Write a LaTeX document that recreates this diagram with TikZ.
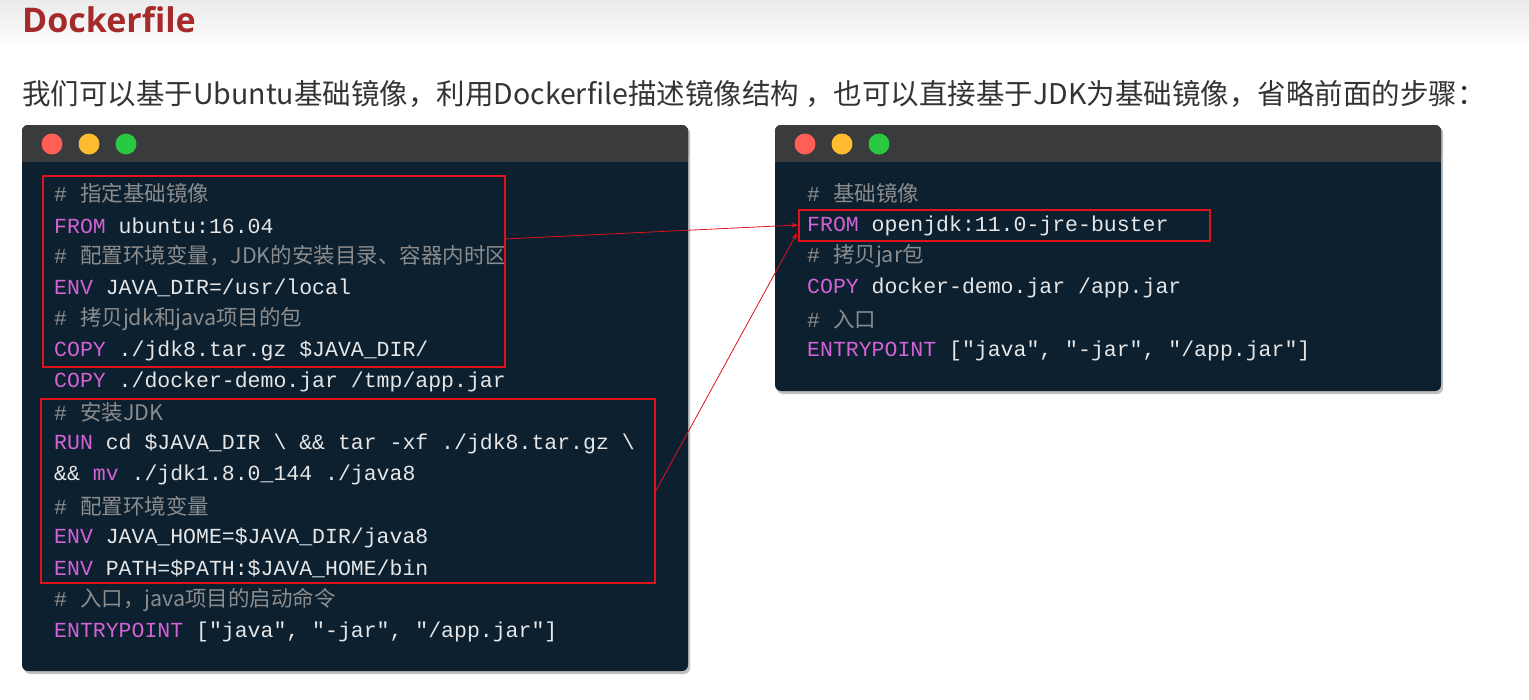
\documentclass[tikz,border=0pt]{standalone}
\usepackage{fontspec}
\setmainfont{Noto Sans CJK SC}
\setmonofont{Liberation Mono}
\newfontfamily\cjk{Noto Sans CJK SC}
\newfontfamily\titlefont{Open Sans}
\usetikzlibrary{arrows.meta}
\definecolor{winbg}{HTML}{0C2030}
\definecolor{bar}{HTML}{3A3B3C}
\definecolor{kw}{HTML}{D163D6}
\definecolor{cm}{HTML}{8C8C8C}
\definecolor{tx}{HTML}{E6E6E6}
\definecolor{rbox}{HTML}{E0121C}
\definecolor{ttl}{HTML}{A52A2A}
\definecolor{dr}{HTML}{FF5F57}
\definecolor{dy}{HTML}{FEBC2E}
\definecolor{dg}{HTML}{28C840}
\newcommand{\K}[1]{\textcolor{kw}{#1}}
\newcommand{\C}[1]{\textcolor{cm}{\# {\cjk #1}}}
\begin{document}
\begin{tikzpicture}[x=1pt,y=-1pt,
  code/.style={anchor=west,inner sep=0,font=\ttfamily\fontsize{21.5}{22}\selectfont,text=tx},
  hl/.style={draw=rbox,line width=1.8pt},
  link/.style={draw=rbox,line width=0.8pt,-{Stealth[length=7pt,width=5pt]}}]
\useasboundingbox (0,0) rectangle (1529,699);
\shade[top color=black!8,bottom color=white] (0,0) rectangle (1529,50);
\node[anchor=west,inner sep=0,text=ttl,font=\titlefont\bfseries\fontsize{34}{36}\selectfont] (title) at (22,20) {Dockerfile};
\node[anchor=west,inner sep=0,text=black!80,font=\fontsize{28.5}{30}\selectfont] (sub) at (22,94) {我们可以基于Ubuntu基础镜像，利用Dockerfile描述镜像结构 ，也可以直接基于JDK为基础镜像，省略前面的步骤：};
% windows
\foreach \n/\x/\h in {L/22/671,R/775/391}{
  \fill[black!25,rounded corners=6pt] (\x+2,127) rectangle (\x+668,\h+3);
  \fill[winbg,rounded corners=6pt] (\x,125) rectangle (\x+666,\h);
  \fill[bar,rounded corners=6pt] (\x,125) rectangle (\x+666,162);
  \fill[bar] (\x,150) rectangle (\x+666,162);
  \fill[dr] (\x+30,144) circle (10.5);
  \fill[dy] (\x+67,144) circle (10.5);
  \fill[dg] (\x+104,144) circle (10.5);
}
% left code
\node[code] (l1) at (54,193) {\C{指定基础镜像}};
\node[code] (l2) at (54,226) {\K{FROM} ubuntu:16.04};
\node[code] (l3) at (54,256) {\C{配置环境变量，JDK的安装目录、容器内时区}};
\node[code] (l4) at (54,288) {\K{ENV} JAVA\_DIR=/usr/local};
\node[code] (l5) at (54,319) {\C{拷贝jdk和java项目的包}};
\node[code] (l6) at (54,351) {\K{COPY} ./jdk8.tar.gz \$JAVA\_DIR/};
\node[code] (l7) at (54,382) {\K{COPY} ./docker-demo.jar /tmp/app.jar};
\node[code] (l8) at (54,412) {\C{安装JDK}};
\node[code] (l9) at (54,444) {\K{RUN} cd \$JAVA\_DIR \textbackslash{} \&\& tar -xf ./jdk8.tar.gz \textbackslash};
\node[code] (l10) at (54,475) {\&\& \K{mv} ./jdk1.8.0\_144 ./java8};
\node[code] (l11) at (54,506) {\C{配置环境变量}};
\node[code] (l12) at (54,538) {\K{ENV} JAVA\_HOME=\$JAVA\_DIR/java8};
\node[code] (l13) at (54,569) {\K{ENV} PATH=\$PATH:\$JAVA\_HOME/bin};
\node[code] (l14) at (54,600) {\C{入口，java项目的启动命令}};
\node[code] (l15) at (54,632) {\K{ENTRYPOINT} ["java", "-jar", "/app.jar"]};
% right code
\node[code] (r1) at (807,193) {\C{基础镜像}};
\node[code] (r2) at (807,226) {\K{FROM} openjdk:11.0-jre-buster};
\node[code] (r3) at (807,256) {\C{拷贝jar包}};
\node[code] (r4) at (807,288) {\K{COPY} docker-demo.jar /app.jar};
\node[code] (r5) at (807,319) {\C{入口}};
\node[code] (r6) at (807,351) {\K{ENTRYPOINT} ["java", "-jar", "/app.jar"]};
% highlight boxes
\node[hl,inner sep=0,minimum width=462,minimum height=191,anchor=north west] (b1) at (42,175) {};
\node[hl,inner sep=0,minimum width=614,minimum height=184,anchor=north west] (b2) at (40,398) {};
\node[hl,inner sep=0,minimum width=411,minimum height=31,anchor=north west] (b3) at (798,209) {};
\coordinate (t1) at (798,225);
\coordinate (t2) at (797,233);
\coordinate (s1) at (504,239);
\draw[link] (s1) -- (t1);
\draw[link] (b2.east) -- (t2);
\end{tikzpicture}
\end{document}
